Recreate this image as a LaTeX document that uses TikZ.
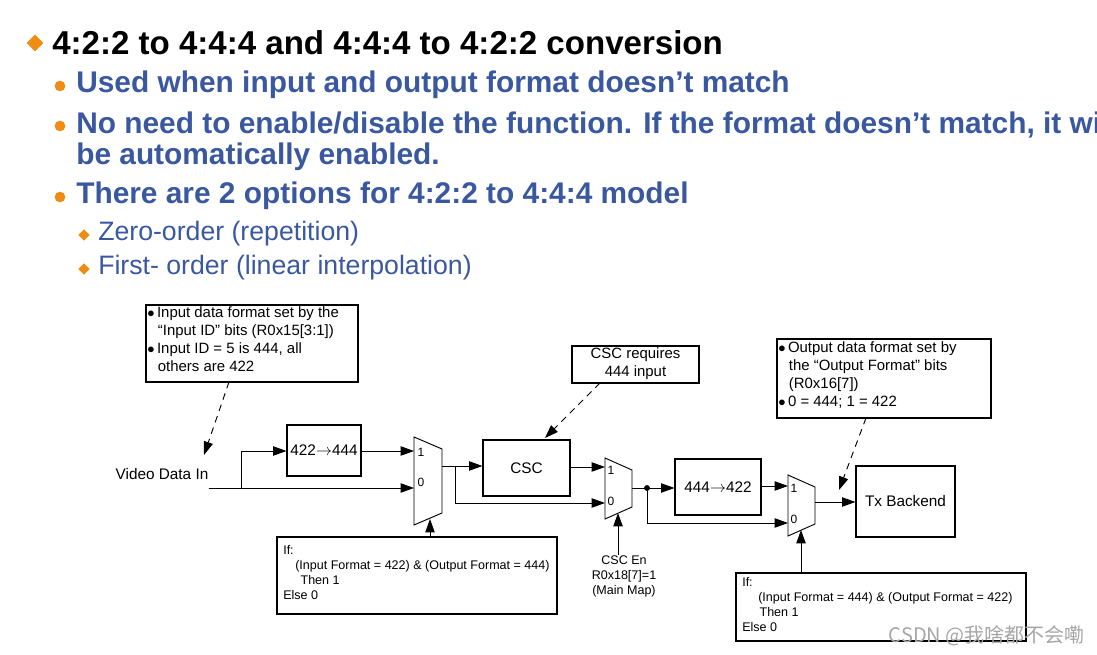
\documentclass[tikz,border=0pt]{standalone}
\usepackage{fontspec}
\setmainfont{Liberation Sans}
\newfontfamily\cjk{Noto Sans CJK SC}
\usetikzlibrary{fit,arrows.meta}
\definecolor{hblue}{RGB}{58,88,160}
\definecolor{horange}{RGB}{240,140,20}
\begin{document}
\begin{tikzpicture}[x=0.75pt,y=-0.75pt,
  box/.style={draw,inner sep=0pt,line width=0.8pt},
  lbl/.style={inner sep=0pt,font=\fontsize{11.5}{13.5}\selectfont},
  sml/.style={inner sep=0pt,font=\fontsize{9.4}{11.4}\selectfont,align=left,anchor=north west},
  arr/.style={-{Triangle[length=10pt,width=7pt]},line width=0.7pt},
  dsh/.style={-{Triangle[length=10pt,width=7pt]},dashed,dash pattern=on 5pt off 4pt,line width=0.7pt},
  mux/.style={draw,line width=0.7pt},
  hd/.style={anchor=west,inner sep=0pt}]
\useasboundingbox (0,0) rectangle (1097,655);
% header
\node[fill=horange,rotate=45,minimum size=9pt,inner sep=0pt] (d0) at (35,43) {};
\node[hd,font=\fontsize{24.8}{28}\selectfont\bfseries] (t0) at (52,43) {4:2:2 to 4:4:4 and 4:4:4 to 4:2:2 conversion};
\node[fill=horange,circle,minimum size=8pt,inner sep=0pt] (d1) at (60,86) {};
\node[hd,font=\fontsize{22.4}{26}\selectfont\bfseries,text=hblue] (t1) at (76,85) {Used when input and output format doesn’t match};
\node[fill=horange,circle,minimum size=8pt,inner sep=0pt] (d2) at (60,126) {};
\node[hd,font=\fontsize{22.4}{26}\selectfont\bfseries,text=hblue] (t2) at (76,125) {No need to enable/disable the function. If the format doesn’t match, it will};
\node[hd,font=\fontsize{22.4}{26}\selectfont\bfseries,text=hblue] (t3) at (76,157) {be automatically enabled.};
\node[fill=horange,circle,minimum size=8pt,inner sep=0pt] (d3) at (60,197) {};
\node[hd,font=\fontsize{22.4}{26}\selectfont\bfseries,text=hblue] (t4) at (76,196) {There are 2 options for 4:2:2 to 4:4:4 model};
\node[fill=horange,rotate=45,minimum size=6pt,inner sep=0pt] (d4) at (84,235) {};
\node[hd,font=\fontsize{20}{23}\selectfont,text=hblue] (t5) at (98,234) {Zero-order (repetition)};
\node[fill=horange,rotate=45,minimum size=6pt,inner sep=0pt] (d5) at (84,269) {};
\node[hd,font=\fontsize{20}{23}\selectfont,text=hblue] (t6) at (98,268) {First- order (linear interpolation)};
\clip (0,0) rectangle (1097,655);
% note boxes
\node[box,fit={(146,305)(358,382)}] (n1) {};
\node[lbl,align=left,anchor=north west,font=\fontsize{11.2}{13.6}\selectfont] (n1t) at (147,306) {$\bullet$\,Input data format set by the\\\hspace*{8pt}“Input ID” bits (R0x15[3:1])\\$\bullet$\,Input ID = 5 is 444, all\\\hspace*{8pt}others are 422};
\node[box,fit={(572,346)(699,383)}] (n2) {};
\node[lbl,align=center,font=\fontsize{11.2}{13.6}\selectfont] (n2t) at (635.5,364) {CSC requires\\444 input};
\node[box,fit={(777,339)(991,418)}] (n3) {};
\node[lbl,align=left,anchor=north west,font=\fontsize{11.2}{13.6}\selectfont] (n3t) at (778,341) {$\bullet$\,Output data format set by\\\hspace*{8pt}the “Output Format” bits\\\hspace*{8pt}(R0x16[7])\\$\bullet$\,0 = 444; 1 = 422};
% blocks
\node[lbl] (vin) at (162,474) {Video Data In};
\node[box,fit={(287,425)(361,476)}] (b1) {};
\node[lbl] at (b1) {422$\rightarrow$444};
\node[box,fit={(483,440)(570,496)}] (csc) {};
\node[lbl] at (csc) {CSC};
\node[box,fit={(675,459)(761,515)}] (b2) {};
\node[lbl] at (b2) {444$\rightarrow$422};
\node[box,fit={(856,466)(955,537)}] (tx) {};
\node[lbl] at (tx) {Tx Backend};
% muxes
\draw[mux] (414,437) -- (442,449) -- (442,513) -- (414,525) -- cycle;
\draw[mux] (605,458) -- (632,470) -- (632,507) -- (605,519) -- cycle;
\draw[mux] (788,475) -- (815,487) -- (815,524) -- (788,536) -- cycle;
\foreach \x/\ya/\yb in {421/452/482, 611/470/501, 794/488/519}{
  \node[lbl,font=\fontsize{9}{10}\selectfont] at (\x,\ya) {1};
  \node[lbl,font=\fontsize{9}{10}\selectfont] at (\x,\yb) {0};}
\coordinate (m1a) at (414,451); \coordinate (m1b) at (414,488); \coordinate (m1o) at (442,466); \coordinate (m1s) at (430,519);
\coordinate (m2a) at (605,467); \coordinate (m2b) at (605,503); \coordinate (m2o) at (632,488); \coordinate (m2s) at (618,513);
\coordinate (m3a) at (788,486); \coordinate (m3b) at (788,523); \coordinate (m3o) at (815,502); \coordinate (m3s) at (801,530);
% condition boxes
\node[box,fit={(277,537)(557,614)}] (c1) {};
\node[sml] at (283,545) {If:\\\hspace*{9pt}(Input Format = 422) \& (Output Format = 444)\\\hspace*{13pt}Then 1\\Else 0};
\node[box,fit={(736,573)(1026,641)}] (c2) {};
\node[sml] at (742,577) {If:\\\hspace*{12pt}(Input Format = 444) \& (Output Format = 422)\\\hspace*{13pt}Then 1\\Else 0};
\node[lbl,align=center,font=\fontsize{9.4}{11.4}\selectfont,anchor=north] (cen) at (624,555) {CSC En\\R0x18[7]=1\\(Main Map)};
% wires
\draw[arr] (241,488) -- (m1b);
\draw[line width=0.7pt] (vin.east |- m1b) -- (241,488);
\draw[arr] (241,488) |- (b1.west |- 0,451);
\draw[arr] (b1.east |- m1a) -- (m1a);
\draw[arr] (m1o) -- (csc.west |- m1o);
\draw[arr] (455,466) |- (m2b);
\draw[arr] (csc.east |- m2a) -- (m2a);
\draw[arr] (m2o) -- (b2.west |- m2o);
\fill (647,488) circle (2.2pt);
\draw[arr] (647,488) |- (m3b);
\draw[arr] (b2.east |- m3a) -- (m3a);
\draw[arr] (m3o) -- (tx.west |- m3o);
\draw[arr] (c1.north -| m1s) -- (m1s);
\draw[arr] (cen.north -| m2s) -- (m2s);
\draw[arr] (c2.north -| m3s) -- (m3s);
% dashed
\draw[dsh] (229,382) -- (204,455);
\draw[dsh] (600,383) -- (545,438);
\draw[dsh] (866,418) -- (839,490);
\node[anchor=east,inner sep=0pt,text=black!35,font=\cjk\fontsize{15}{17}\selectfont] (wm) at (1085,636) {CSDN @我啥都不会嘞};
\end{tikzpicture}
\end{document}
